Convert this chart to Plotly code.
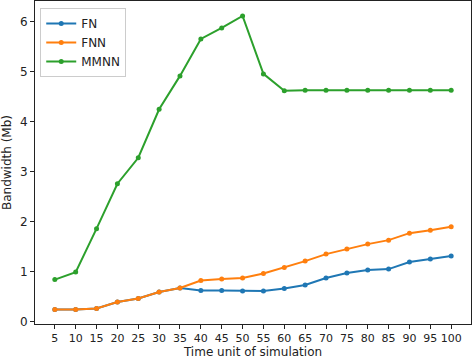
import plotly.graph_objects as go

time_units = [5, 10, 15, 20, 25, 30, 35, 40, 45, 50, 55, 60, 65, 70, 75, 80, 85, 90, 95, 100]
fn = [0.24, 0.24, 0.26, 0.39, 0.46, 0.59, 0.67, 0.62, 0.62, 0.61, 0.61, 0.66, 0.73, 0.87, 0.97, 1.03, 1.05, 1.19, 1.25, 1.31]
fnn = [0.24, 0.24, 0.26, 0.39, 0.46, 0.59, 0.67, 0.82, 0.85, 0.87, 0.96, 1.08, 1.21, 1.35, 1.45, 1.55, 1.63, 1.77, 1.83, 1.90]
mmnn = [0.84, 0.99, 1.86, 2.76, 3.28, 4.25, 4.92, 5.66, 5.88, 6.12, 4.96, 4.62, 4.63, 4.63, 4.63, 4.63, 4.63, 4.63, 4.63, 4.63]
y_ticks = [0, 1, 2, 3, 4, 5, 6]

series = [("FN", fn, "#1f77b4"), ("FNN", fnn, "#ff7f0e"), ("MMNN", mmnn, "#2ca02c")]

fig = go.Figure()
for name, vals, color in series:
    fig.add_trace(go.Scatter(
        x=time_units, y=vals, name=name, mode="lines+markers",
        line=dict(color=color, width=2),
        marker=dict(color=color, size=5),
    ))

font = "DejaVu Sans, sans-serif"
fig.update_layout(
    width=474, height=361,
    margin=dict(l=35, r=3, t=1, b=37),
    paper_bgcolor="white", plot_bgcolor="white",
    font=dict(family=font, size=11, color="#222"),
    showlegend=True,
    legend=dict(
        x=0.012, y=0.978, xanchor="left", yanchor="top",
        bordercolor="#cccccc", borderwidth=1, bgcolor="rgba(255,255,255,0.8)",
        font=dict(size=12), tracegroupgap=0, itemwidth=30,
    ),
    xaxis=dict(
        range=[0.25, 104.75], tickmode="array", tickvals=time_units,
        tickangle=0, automargin=False, tickfont=dict(size=11),
        ticks="outside", ticklen=4, tickcolor="#222",
        showline=True, linecolor="#222", linewidth=1, mirror=True,
        showgrid=False, zeroline=False,
        title=dict(text="Time unit of simulation", font=dict(size=12), standoff=3),
    ),
    yaxis=dict(
        range=[-0.05, 6.42], tickmode="array", tickvals=y_ticks,
        automargin=False, tickfont=dict(size=12),
        ticks="outside", ticklen=4, tickcolor="#222",
        showline=True, linecolor="#222", linewidth=1, mirror=True,
        showgrid=False, zeroline=False,
        title=dict(text="Bandwidth (Mb)", font=dict(size=12), standoff=8),
    ),
)

fig.write_html("out.html", config={"displayModeBar": False},
               post_script="document.body.style.margin='0';")
